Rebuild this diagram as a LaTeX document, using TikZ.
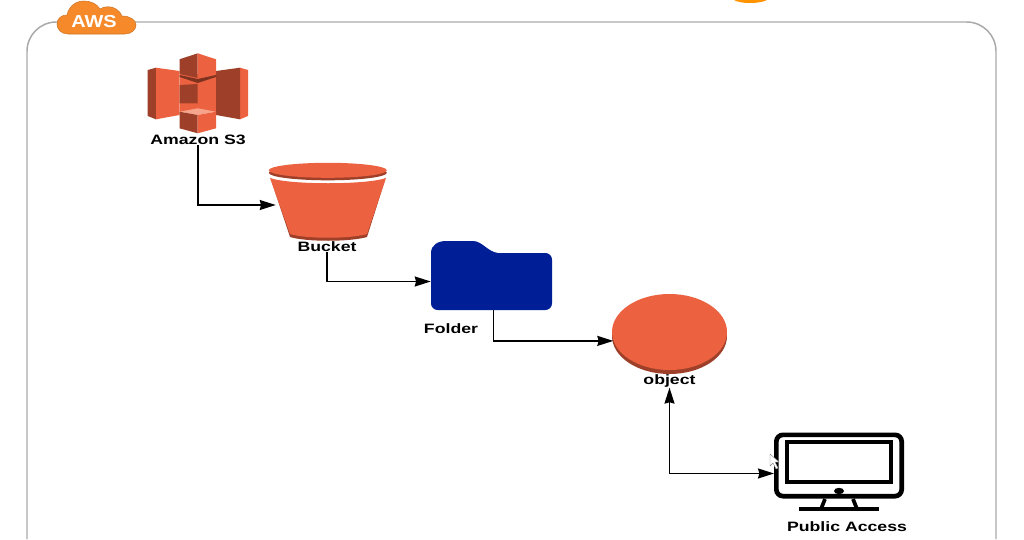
\documentclass[tikz,border=0pt]{standalone}
\usepackage{fontspec}
\setmainfont{Liberation Sans}
\newfontfamily\labelfont[FakeStretch=1.3]{Liberation Sans Bold}
\newfontfamily\cloudfont[FakeStretch=1.15]{Liberation Sans Bold}
\usetikzlibrary{arrows.meta,shapes.geometric}
\definecolor{s3light}{HTML}{EC6240}
\definecolor{s3dark}{HTML}{9E4029}
\definecolor{s3pale}{HTML}{F7A48C}
\definecolor{folderblue}{HTML}{001E96}
\definecolor{cloudorange}{HTML}{F68A2B}
\definecolor{frameline}{HTML}{A9A9A9}
\tikzset{
  iconlabel/.style={inner sep=0pt, text=black, font=\labelfont\fontsize{10.2}{12}\selectfont},
  hidden/.style={inner sep=0pt, draw=none, fill=none},
  conn/.style={draw=black, line width=1.1pt, -{Stealth[length=12pt,width=7.5pt,inset=1pt]}},
  biconn/.style={draw=black, line width=1.1pt, {Stealth[length=12pt,width=7.5pt,inset=1pt]}-{Stealth[length=12pt,width=7.5pt,inset=1pt]}}
}
\begin{document}
\begin{tikzpicture}[x=0.75pt,y=-0.75pt]
\useasboundingbox (0,0) rectangle (1024,539);
\fill[white] (0,0) rectangle (1024,539);
% frame and cloud
\fill[orange!85!yellow] (734,0) .. controls (740,4) and (760,4) .. (767,0) -- cycle;
\draw[frameline, line width=1.1pt, rounded corners=22pt] (27,539) -- (27,22) -- (996,22) -- (996,539);
\fill[cloudorange, draw=cloudorange!85!black, line width=0.4pt] (68,34) .. controls (61,34) and (57,29) .. (57,24) .. controls (57,18) and (62,15) .. (67,15) .. controls (69,6) and (76,1) .. (84,1) .. controls (91,1) and (97,4) .. (100,9) .. controls (104,6) and (112,6) .. (116,9) .. controls (119,11) and (121,13) .. (122,16) .. controls (130,16) and (136,20) .. (136,25) .. controls (136,30) and (131,34) .. (125,34) -- cycle;
\node[inner sep=0pt, text=white, font=\cloudfont\fontsize{13}{15}\selectfont] (cloudtag) at (94,22) {AWS};
% s3 icon
\fill[s3dark] (147.7,70) -- (156,67.7) -- (156,119.3) -- (147.7,116) -- cycle;
\fill[s3light] (156,67.7) -- (179.5,71) -- (179.5,115) -- (156,119.3) -- cycle;
\fill[s3light] (248,70) -- (240,67.7) -- (240,119.3) -- (248,116) -- cycle;
\fill[s3dark] (240,67.7) -- (216,71) -- (216,115) -- (240,119.3) -- cycle;
\fill[s3light] (179.5,74) rectangle (216,112);
\fill[s3dark] (197.7,53.3) -- (179.5,59.3) -- (179.5,74) -- (197.7,78) -- cycle;
\fill[s3light] (197.7,53.3) -- (216,59.3) -- (216,74) -- (197.7,78) -- cycle;
\fill[s3dark!80!black] (179.5,75) -- (197.7,79) -- (216,75) -- (216,77) -- (197.7,83) -- (179.5,77) -- cycle;
\fill[s3dark] (179.5,85) -- (197.7,84) -- (197.7,103.3) -- (179.5,103.3) -- cycle;
\fill[s3pale] (179.5,111.7) -- (197.7,108.3) -- (216,111.7) -- (197.7,115) -- cycle;
\fill[s3dark] (179.5,111.7) -- (197.7,115) -- (197.7,133.3) -- (179.5,128.3) -- cycle;
\fill[s3light] (216,111.7) -- (197.7,115) -- (197.7,133.3) -- (216,128.3) -- cycle;
\node[iconlabel] (s3label) at (198,140) {Amazon S3};
% bucket
\fill[s3dark] (270,177) .. controls (290,187) and (366,187) .. (386,177) -- (367,237) .. controls (350,242) and (306,242) .. (290,237) -- cycle;
\fill[white] (268,175) rectangle (388,181) (268,181) .. controls (290,186) and (366,186) .. (388,181) -- cycle;
\fill[s3light] (270,178) .. controls (290,185) and (366,185) .. (386,178) -- (367,234) .. controls (350,239) and (306,239) .. (290,234) -- cycle;
\fill[s3dark] (327.8,172.8) ellipse [x radius=59, y radius=7.5];
\fill[s3light] (327.8,170.3) ellipse [x radius=59, y radius=7.5];
\node[hidden, minimum width=78pt, minimum height=22pt] (bucket) at (328,205) {};
\node[iconlabel] (bucketlabel) at (327,247) {Bucket};
% folder
\fill[folderblue] (431,262) -- (431,253) .. controls (431,245) and (438,241) .. (446,241) -- (473,241) .. controls (482,241) and (488,252) .. (498,253) -- (498,262) -- cycle;
\node[inner sep=0pt, fill=folderblue, rounded corners=5pt, minimum width=90.75pt, minimum height=42.75pt] (folder) at (491.5,281.5) {};
\node[iconlabel] (folderlabel) at (451,329) {Folder};
% object
\fill[s3dark] (669.5,336) ellipse [x radius=57.5, y radius=38];
\node[ellipse, inner sep=0pt, fill=s3light, minimum width=86.25pt, minimum height=57pt] (object) at (669.5,332) {};
\node[iconlabel] (objectlabel) at (669.5,381) {object};
% monitor
\node[draw=black, line width=3.5pt, rounded corners=5pt, inner sep=0pt, minimum width=94pt, minimum height=46pt] (monitor) at (839,465.5) {};
\node[draw=black, line width=3pt, inner sep=0pt, minimum width=78pt, minimum height=30pt] (screen) at (839,462) {};
\fill[black] (839,491) ellipse [x radius=5, y radius=3.2];
\draw[black, line width=2.8pt] (825,499) -- (821,509) (853,499) -- (857,509);
\draw[black, line width=2.6pt] (799,509) -- (879,509);
\node[iconlabel] (publiclabel) at (847,527) {Public Access};
% arrows
\draw[conn] (s3label.south) |- (bucket.west);
\draw[conn] (bucketlabel.south) |- (folder.west);
\draw[conn] ([xshift=1.5pt]folder.south) |- (object.189);
\draw[biconn] (objectlabel.south) |- (monitor.187);
% pointer
\draw[gray, fill=white, line width=0.3pt] (770,454) -- (770,466) -- (773,463) -- (776,469) -- (778,468) -- (775,462) -- (779,462) -- cycle;
\end{tikzpicture}
\end{document}
